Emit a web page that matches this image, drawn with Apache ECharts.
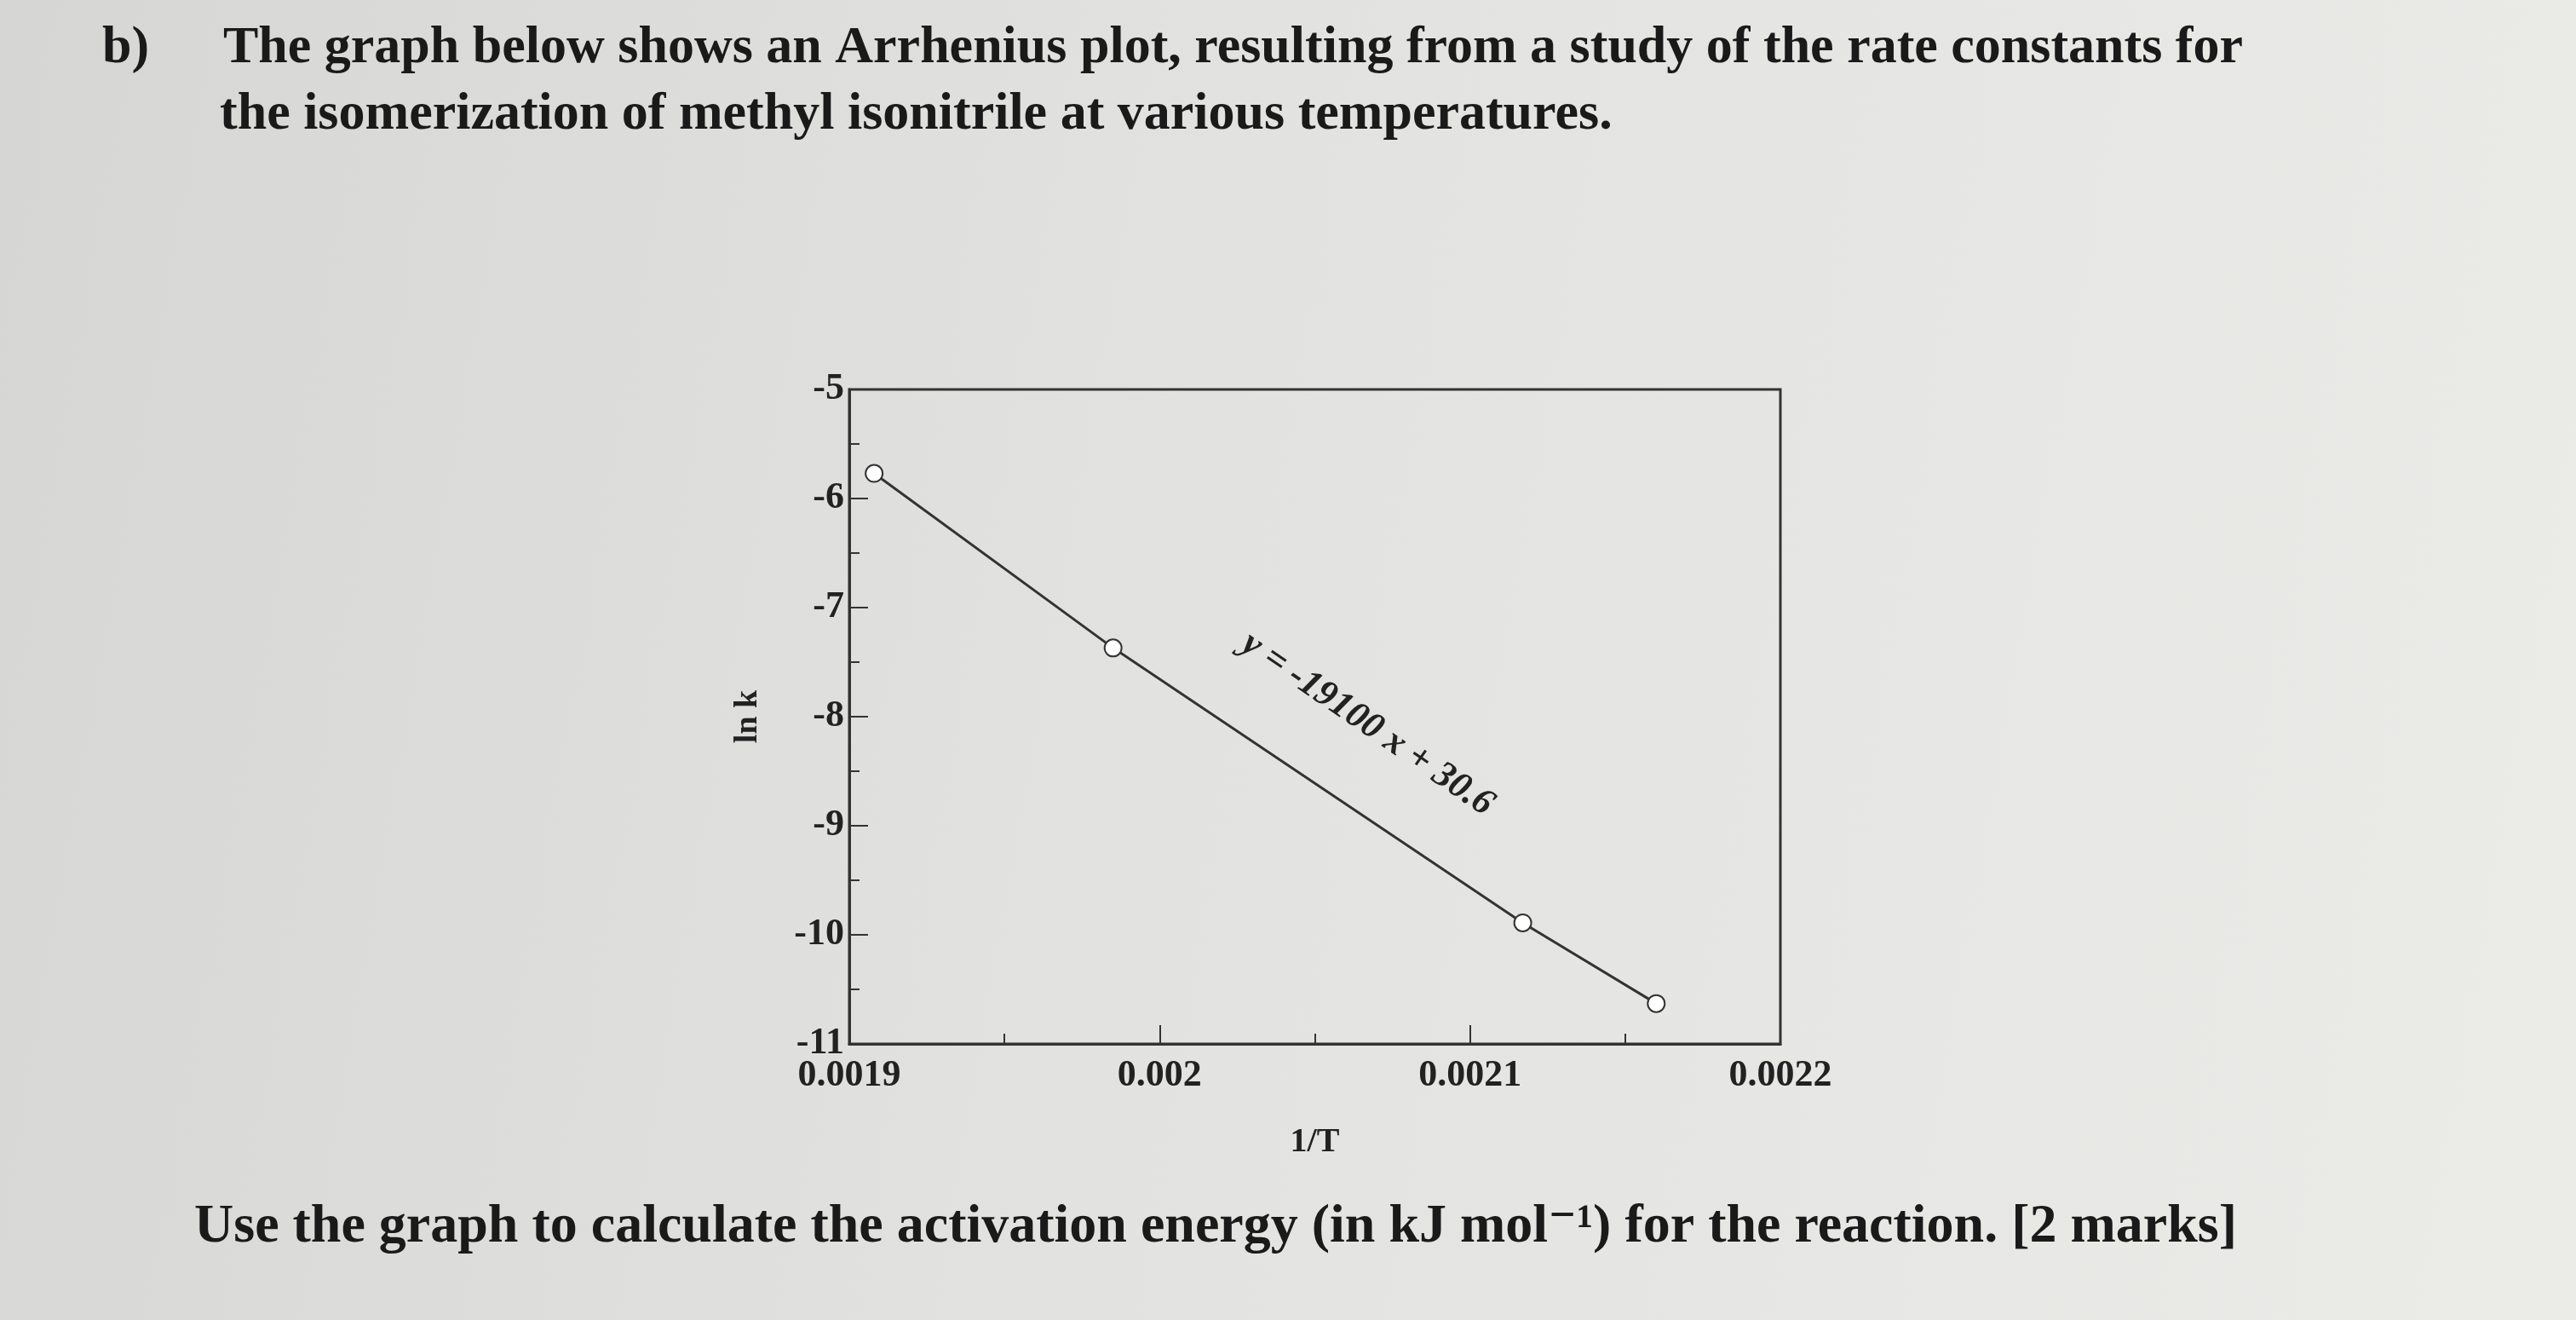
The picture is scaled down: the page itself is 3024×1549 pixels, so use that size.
<!DOCTYPE html>
<html>
<head>
<meta charset="utf-8">
<script src="https://cdn.jsdelivr.net/npm/echarts@6/dist/echarts.min.js"></script>
<style>
  html, body { margin: 0; padding: 0; }
  #chart { width: 3024px; height: 1549px;
    background: linear-gradient(100deg, #d6d6d4 0%, #e2e2e0 45%, #ebebe8 100%); }
</style>
</head>
<body>
<div id="chart"></div>
<script>
// 1/T (K^-1) and ln k
var invT = [0.001908, 0.001985, 0.002117, 0.00216];
var lnK = [-5.77, -7.37, -9.89, -10.63];
var xTicks = [0.0019, 0.002, 0.0021, 0.0022];
var yTicks = [-11, -10, -9, -8, -7, -6, -5];

var serif = '"Liberation Serif", "DejaVu Serif", serif';
var chart = echarts.init(document.getElementById('chart'));

chart.setOption({
  animation: false,
  grid: { left: 997, right: 3024 - 2090, top: 457, bottom: 1549 - 1225 },
  xAxis: {
    type: 'value', min: 0.0019, max: 0.0022, interval: 0.0001,
    name: '1/T', nameLocation: 'middle', nameGap: 96,
    nameTextStyle: { fontFamily: serif, fontSize: 40, fontWeight: 'bold', color: '#222' },
    axisLine: { lineStyle: { color: '#333', width: 3 } },
    axisTick: { inside: true, length: 22, lineStyle: { color: '#333', width: 2 } },
    minorTick: { show: true, splitNumber: 2, length: 12, lineStyle: { color: '#333', width: 2 } },
    splitLine: { show: false },
    axisLabel: { fontFamily: serif, fontSize: 44, fontWeight: 'bold', color: '#222', margin: 16,
      formatter: function (v) { return xTicks.indexOf(+v.toFixed(4)) >= 0 ? String(+v.toFixed(4)) : ''; } }
  },
  yAxis: {
    type: 'value', min: -11, max: -5, interval: 1,
    name: 'ln k', nameLocation: 'middle', nameGap: 100, nameRotate: 90,
    nameTextStyle: { fontFamily: serif, fontSize: 38, fontWeight: 'bold', color: '#222' },
    axisLine: { show: true, lineStyle: { color: '#333', width: 3 } },
    axisTick: { inside: true, length: 22, lineStyle: { color: '#333', width: 2 } },
    minorTick: { show: true, splitNumber: 2, length: 12, lineStyle: { color: '#333', width: 2 } },
    splitLine: { show: false },
    axisLabel: { fontFamily: serif, fontSize: 44, fontWeight: 'bold', color: '#222', margin: 6,
      formatter: function (v) { return yTicks.indexOf(v) >= 0 ? String(v) : ''; } }
  },
  graphic: [
    { type: 'rect', shape: { x: 997, y: 457, width: 1093, height: 768 }, z: 10,
      style: { fill: 'none', stroke: '#333', lineWidth: 3 } },
    { type: 'text', x: 120, y: 26, style: { text: 'b)', font: 'bold 62px ' + serif, fill: '#1a1a1a' } },
    { type: 'text', x: 262, y: 26, style: { text: 'The graph below shows an Arrhenius plot, resulting from a study of the rate constants for', font: 'bold 62px ' + serif, fill: '#1a1a1a' } },
    { type: 'text', x: 258, y: 104, style: { text: 'the isomerization of methyl isonitrile at various temperatures.', font: 'bold 62px ' + serif, fill: '#1a1a1a' } },
    { type: 'text', x: 228, y: 1408, style: { text: 'Use the graph to calculate the activation energy (in kJ mol⁻¹) for the reaction. [2 marks]', font: 'bold 64px ' + serif, fill: '#1a1a1a' } },
    { type: 'text', x: 1605, y: 850, rotation: -0.6, z: 20,
      style: { text: 'y = -19100 x + 30.6', font: 'italic bold 44px ' + serif, fill: '#222', align: 'center', verticalAlign: 'middle' } }
  ],
  series: [{
    type: 'line',
    data: invT.map(function (x, i) { return [x, lnK[i]]; }),
    symbol: 'emptyCircle', symbolSize: 20,
    lineStyle: { color: '#333', width: 3 },
    itemStyle: { color: '#333', borderWidth: 4 }
  }]
});
</script>
</body>
</html>
